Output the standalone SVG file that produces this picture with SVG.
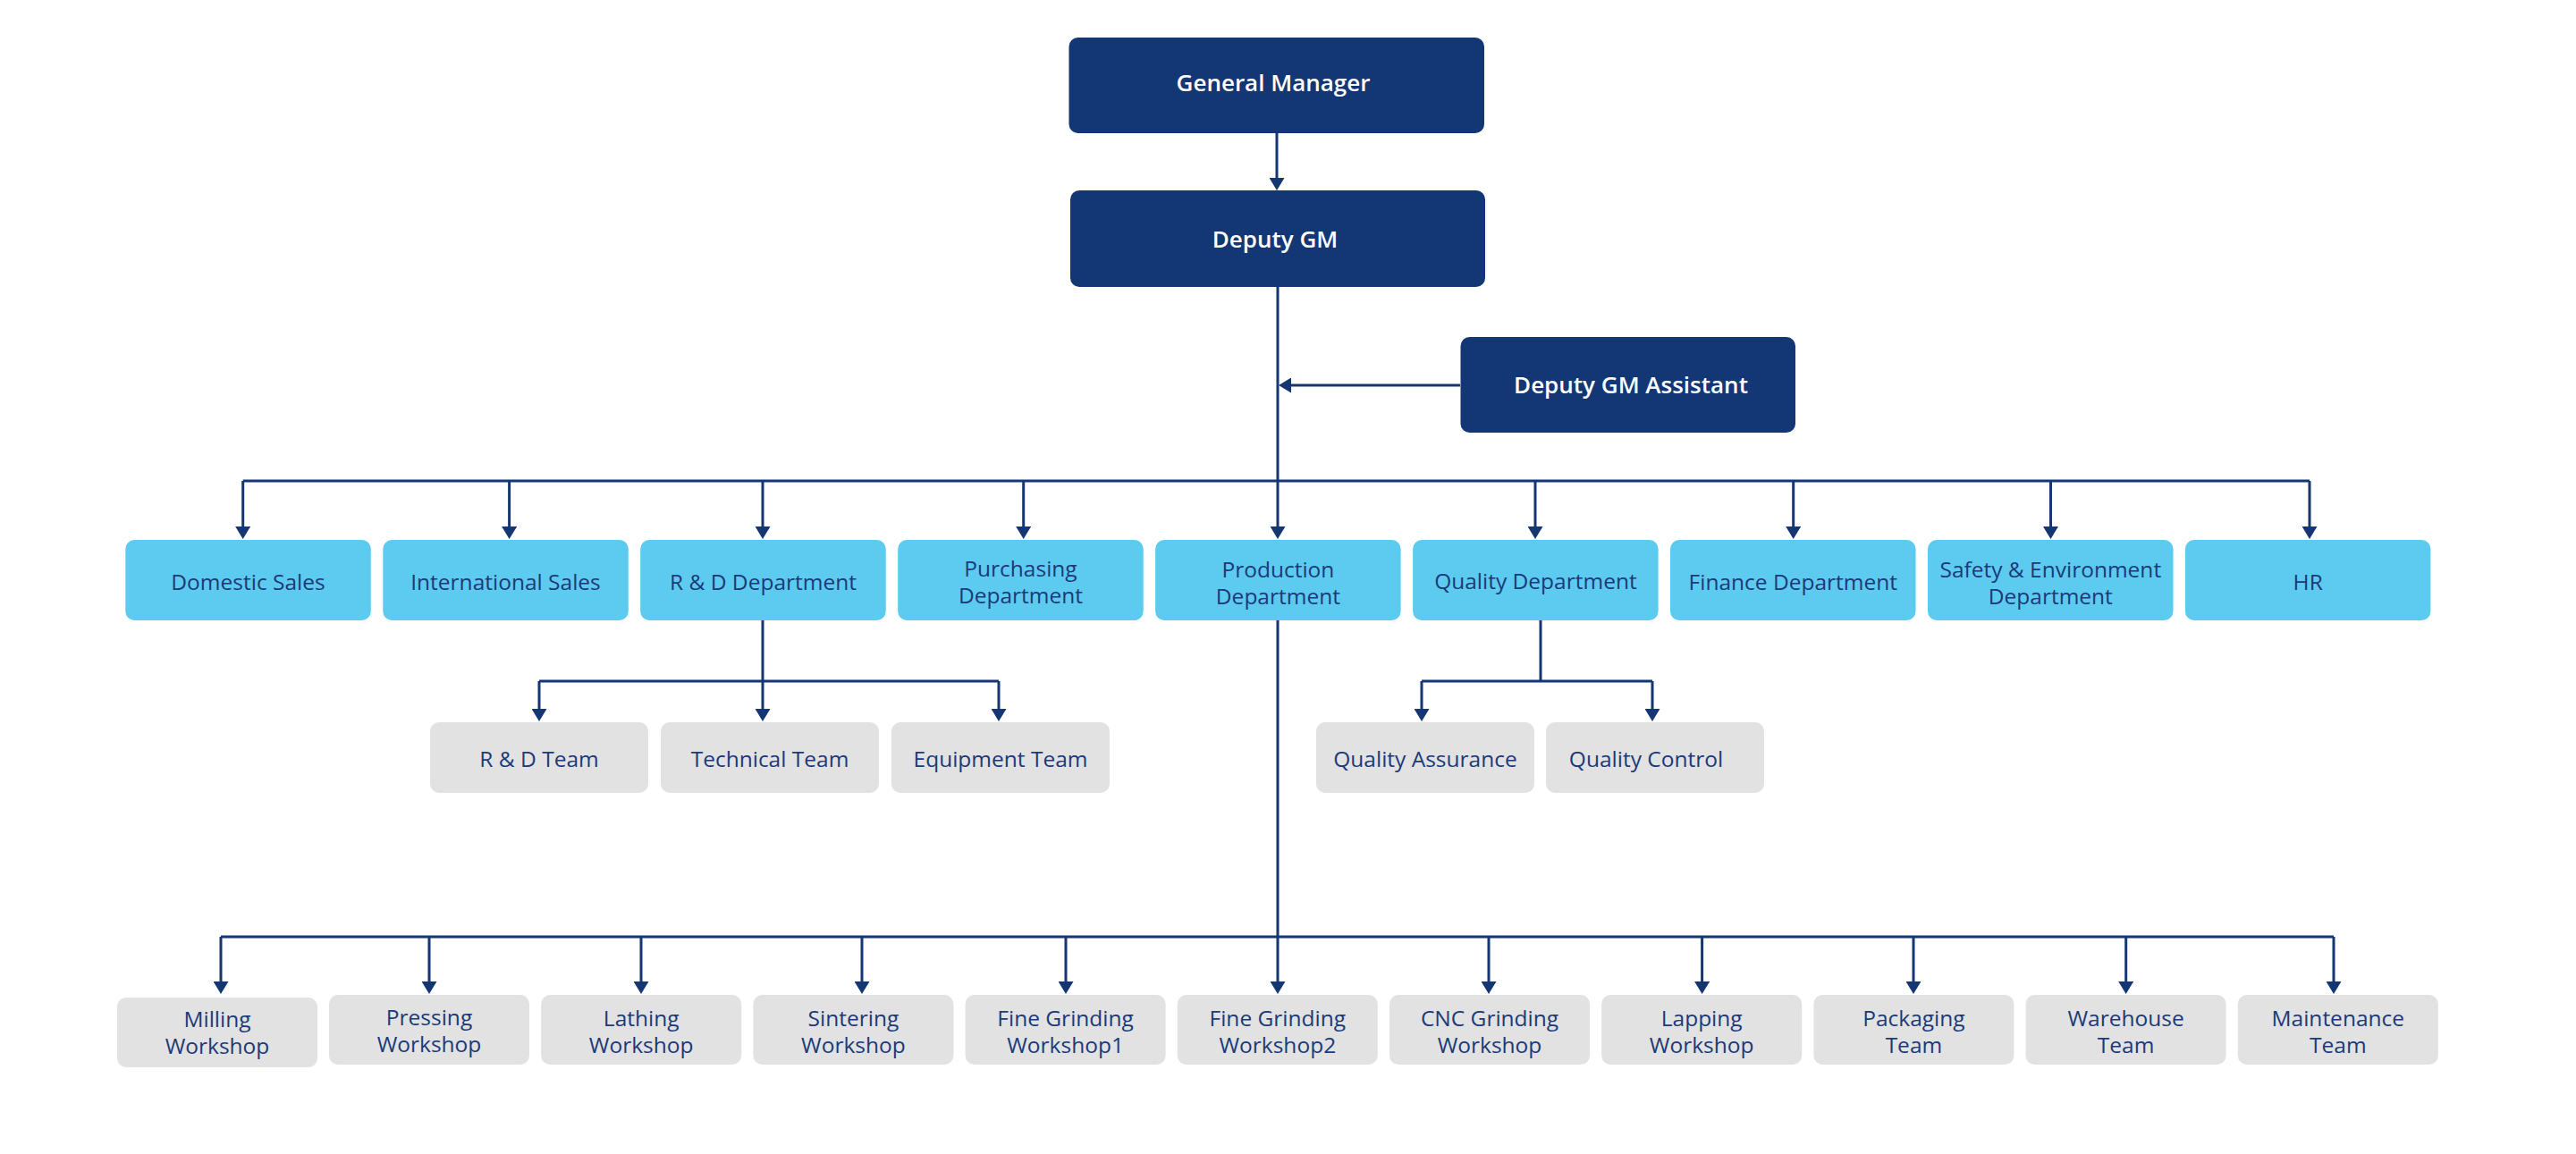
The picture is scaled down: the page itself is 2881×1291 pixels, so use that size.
<svg xmlns="http://www.w3.org/2000/svg" width="2881" height="1291" viewBox="0 0 2881 1291">
<defs>
<marker id="ah" markerUnits="userSpaceOnUse" viewBox="0 0 14 17" refX="10" refY="8.5" markerWidth="14" markerHeight="17" orient="auto">
<path d="M0,0 L14,8.5 L0,17 z" fill="#143774"/>
</marker>
<style>
.dk{fill:#133775}
.lb{fill:#5dcbef}
.gr{fill:#e2e2e2}
.tw{fill:#ffffff;font-family:"Open Sans","Liberation Sans",sans-serif;font-size:26px;font-weight:600;text-anchor:middle;dominant-baseline:central}
.tn{fill:#1b3a78;font-family:"Open Sans","Liberation Sans",sans-serif;font-size:24.5px;font-weight:500;text-anchor:middle;dominant-baseline:central}
.ln{fill:none;stroke:#143774;stroke-width:3}
.ar{fill:none;stroke:#143774;stroke-width:3;marker-end:url(#ah)}
</style>
</defs>
<rect width="2881" height="1291" fill="#ffffff"/>
<g id="connectors">
<path class="ar" d="M1428,149 V209"/>
<path class="ar" d="M1633,431 H1434"/>
<path class="ln" d="M1429,321 V538"/>
<path class="ln" d="M271.7,538 H2583"/>
<path class="ar" d="M271.7,538 V599"/>
<path class="ar" d="M569.6,538 V599"/>
<path class="ar" d="M853,538 V599"/>
<path class="ar" d="M1144.7,538 V599"/>
<path class="ar" d="M1429,538 V599"/>
<path class="ar" d="M1717,538 V599"/>
<path class="ar" d="M2005.7,538 V599"/>
<path class="ar" d="M2293.5,538 V599"/>
<path class="ar" d="M2583,538 V599"/>
<path class="ln" d="M603,762 H1117"/>
<path class="ar" d="M853,694 V803"/>
<path class="ar" d="M603,762 V803"/>
<path class="ar" d="M1117,762 V803"/>
<path class="ln" d="M1723,694 V762"/>
<path class="ln" d="M1590,762 H1848"/>
<path class="ar" d="M1590,762 V803"/>
<path class="ar" d="M1848,762 V803"/>
<path class="ln" d="M1429,694 V1048"/>
<path class="ln" d="M247,1048 H2610"/>
<path class="ar" d="M247,1048 V1108"/>
<path class="ar" d="M480,1048 V1108"/>
<path class="ar" d="M717,1048 V1108"/>
<path class="ar" d="M964,1048 V1108"/>
<path class="ar" d="M1192,1048 V1108"/>
<path class="ar" d="M1429,1048 V1108"/>
<path class="ar" d="M1665,1048 V1108"/>
<path class="ar" d="M1903.6,1048 V1108"/>
<path class="ar" d="M2140,1048 V1108"/>
<path class="ar" d="M2377.7,1048 V1108"/>
<path class="ar" d="M2610,1048 V1108"/>
</g>
<g id="gm"><rect class="dk" x="1195.5" y="42" width="464.5" height="107" rx="10"/><text class="tw" x="1424" y="92">General Manager</text></g>
<g id="dgm"><rect class="dk" x="1197" y="213" width="464" height="108" rx="10"/><text class="tw" x="1426" y="267">Deputy GM</text></g>
<g id="dgma"><rect class="dk" x="1633.5" y="377" width="374.5" height="107" rx="10"/><text class="tw" x="1824" y="430">Deputy GM Assistant</text></g>
<g id="domestic"><rect class="lb" x="140.3" y="604" width="274.5" height="90" rx="10"/><text class="tn" x="277.5" y="650">Domestic Sales</text></g>
<g id="international"><rect class="lb" x="428.3" y="604" width="274.5" height="90" rx="10"/><text class="tn" x="565.5" y="650">International Sales</text></g>
<g id="rnd"><rect class="lb" x="716.2" y="604" width="274.5" height="90" rx="10"/><text class="tn" x="853.5" y="650">R &amp; D Department</text></g>
<g id="purchasing"><rect class="lb" x="1004.2" y="604" width="274.5" height="90" rx="10"/><text class="tn" x="1141.5" y="635">Purchasing</text><text class="tn" x="1141.5" y="665">Department</text></g>
<g id="production"><rect class="lb" x="1292.1" y="604" width="274.5" height="90" rx="10"/><text class="tn" x="1429.4" y="636">Production</text><text class="tn" x="1429.4" y="666">Department</text></g>
<g id="quality"><rect class="lb" x="1580.1" y="604" width="274.5" height="90" rx="10"/><text class="tn" x="1717.4" y="649">Quality Department</text></g>
<g id="finance"><rect class="lb" x="1868" y="604" width="274.5" height="90" rx="10"/><text class="tn" x="2005.3" y="650">Finance Department</text></g>
<g id="safety"><rect class="lb" x="2156" y="604" width="274.5" height="90" rx="10"/><text class="tn" x="2293.3" y="636">Safety &amp; Environment</text><text class="tn" x="2293.3" y="666">Department</text></g>
<g id="hr"><rect class="lb" x="2443.9" y="604" width="274.5" height="90" rx="10"/><text class="tn" x="2581.2" y="650">HR</text></g>
<g id="rndteam"><rect class="gr" x="481" y="808" width="244" height="79" rx="10"/><text class="tn" x="603" y="848">R &amp; D Team</text></g>
<g id="techteam"><rect class="gr" x="739" y="808" width="244" height="79" rx="10"/><text class="tn" x="861" y="848">Technical Team</text></g>
<g id="equipteam"><rect class="gr" x="997" y="808" width="244" height="79" rx="10"/><text class="tn" x="1119" y="848">Equipment Team</text></g>
<g id="qa"><rect class="gr" x="1472" y="808" width="244" height="79" rx="10"/><text class="tn" x="1594" y="848">Quality Assurance</text></g>
<g id="qc"><rect class="gr" x="1729" y="808" width="244" height="79" rx="10"/><text class="tn" x="1841" y="848">Quality Control</text></g>
<g id="milling"><rect class="gr" x="131" y="1116" width="224" height="78" rx="10"/><text class="tn" x="243" y="1139">Milling</text><text class="tn" x="243" y="1169">Workshop</text></g>
<g id="pressing"><rect class="gr" x="368" y="1113" width="224" height="78" rx="10"/><text class="tn" x="480" y="1137">Pressing</text><text class="tn" x="480" y="1167">Workshop</text></g>
<g id="lathing"><rect class="gr" x="605.2" y="1113" width="224" height="78" rx="10"/><text class="tn" x="717.2" y="1138">Lathing</text><text class="tn" x="717.2" y="1168">Workshop</text></g>
<g id="sintering"><rect class="gr" x="842.4" y="1113" width="224" height="78" rx="10"/><text class="tn" x="954.4" y="1138">Sintering</text><text class="tn" x="954.4" y="1168">Workshop</text></g>
<g id="fg1"><rect class="gr" x="1079.6" y="1113" width="224" height="78" rx="10"/><text class="tn" x="1191.6" y="1138">Fine Grinding</text><text class="tn" x="1191.6" y="1168">Workshop1</text></g>
<g id="fg2"><rect class="gr" x="1316.8" y="1113" width="224" height="78" rx="10"/><text class="tn" x="1428.8" y="1138">Fine Grinding</text><text class="tn" x="1428.8" y="1168">Workshop2</text></g>
<g id="cnc"><rect class="gr" x="1554" y="1113" width="224" height="78" rx="10"/><text class="tn" x="1666" y="1138">CNC Grinding</text><text class="tn" x="1666" y="1168">Workshop</text></g>
<g id="lapping"><rect class="gr" x="1791.2" y="1113" width="224" height="78" rx="10"/><text class="tn" x="1903.2" y="1138">Lapping</text><text class="tn" x="1903.2" y="1168">Workshop</text></g>
<g id="packaging"><rect class="gr" x="2028.4" y="1113" width="224" height="78" rx="10"/><text class="tn" x="2140.4" y="1138">Packaging</text><text class="tn" x="2140.4" y="1168">Team</text></g>
<g id="warehouse"><rect class="gr" x="2265.6" y="1113" width="224" height="78" rx="10"/><text class="tn" x="2377.6" y="1138">Warehouse</text><text class="tn" x="2377.6" y="1168">Team</text></g>
<g id="maintenance"><rect class="gr" x="2502.8" y="1113" width="224" height="78" rx="10"/><text class="tn" x="2614.8" y="1168" dy="-30">Maintenance</text><text class="tn" x="2614.8" y="1168">Team</text></g>
</svg>
